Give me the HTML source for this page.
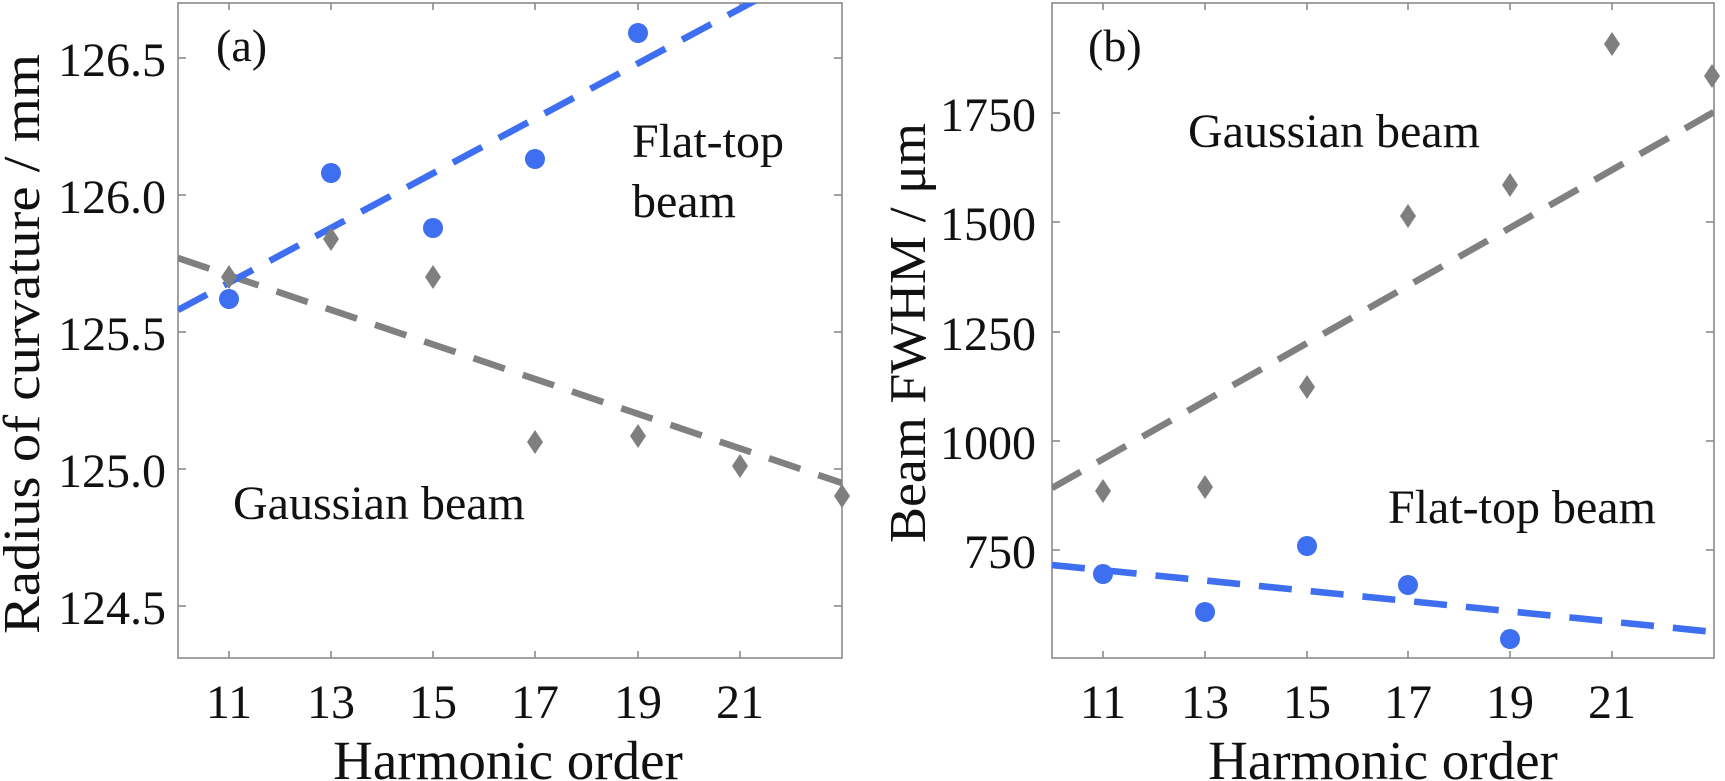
<!DOCTYPE html>
<html><head><meta charset="utf-8"><style>html,body{margin:0;padding:0;background:#fff}svg{display:block}</style></head>
<body>
<svg width="1725" height="781" viewBox="0 0 1725 781" xmlns="http://www.w3.org/2000/svg" font-family="Liberation Serif, serif" fill="#111">
<defs>
<clipPath id="ca"><rect x="178" y="3" width="664" height="655"/></clipPath>
<clipPath id="cb"><rect x="1052" y="3" width="662" height="655"/></clipPath>
<symbol id="dm" overflow="visible"><polygon points="0,-12 8,0 0,12 -8,0" fill="#7f7f7f"/></symbol>
</defs>
<!-- Panel a -->
<rect x="178" y="3" width="664" height="655" fill="none" stroke="#8a8a8a" stroke-width="1.6"/>
<g stroke="#8a8a8a" stroke-width="1.6">
<line x1="178" y1="58" x2="186" y2="58"/><line x1="178" y1="195" x2="186" y2="195"/><line x1="178" y1="332" x2="186" y2="332"/><line x1="178" y1="469" x2="186" y2="469"/><line x1="178" y1="606" x2="186" y2="606"/>
<line x1="842" y1="58" x2="834" y2="58"/><line x1="842" y1="195" x2="834" y2="195"/><line x1="842" y1="332" x2="834" y2="332"/><line x1="842" y1="469" x2="834" y2="469"/><line x1="842" y1="606" x2="834" y2="606"/>
<line x1="229" y1="658" x2="229" y2="651"/><line x1="331" y1="658" x2="331" y2="651"/><line x1="433" y1="658" x2="433" y2="651"/><line x1="535" y1="658" x2="535" y2="651"/><line x1="638" y1="658" x2="638" y2="651"/><line x1="740" y1="658" x2="740" y2="651"/>
<line x1="229" y1="3" x2="229" y2="10"/><line x1="331" y1="3" x2="331" y2="10"/><line x1="433" y1="3" x2="433" y2="10"/><line x1="535" y1="3" x2="535" y2="10"/><line x1="638" y1="3" x2="638" y2="10"/><line x1="740" y1="3" x2="740" y2="10"/>
</g>
<g font-size="48" text-anchor="end">
<text x="166" y="76">126.5</text><text x="166" y="213">126.0</text><text x="166" y="350">125.5</text><text x="166" y="487">125.0</text><text x="166" y="624">124.5</text>
</g>
<g font-size="48" text-anchor="middle">
<text x="229" y="718">11</text><text x="331" y="718">13</text><text x="433" y="718">15</text><text x="535" y="718">17</text><text x="638" y="718">19</text><text x="740" y="718">21</text>
</g>
<text x="508" y="779" font-size="55" text-anchor="middle">Harmonic order</text>
<text transform="translate(39,344) rotate(-90)" font-size="52" text-anchor="middle" textLength="580" lengthAdjust="spacingAndGlyphs">Radius of curvature / mm</text>
<text x="216" y="61" font-size="46">(a)</text>
<text x="632" y="157" font-size="48">Flat-top</text>
<text x="632" y="217" font-size="48">beam</text>
<text x="233" y="519" font-size="48">Gaussian beam</text>
<g clip-path="url(#ca)">
<line x1="178" y1="258" x2="842" y2="483" stroke="#808080" stroke-width="6.6" stroke-dasharray="33,19"/>
<line x1="178" y1="310" x2="842" y2="-46" stroke="#3d6ff0" stroke-width="6.6" stroke-dasharray="33,19"/>
</g>
<g>
<use href="#dm" x="229" y="277"/><use href="#dm" x="331" y="239"/><use href="#dm" x="433" y="277"/><use href="#dm" x="535" y="442"/><use href="#dm" x="638" y="436"/><use href="#dm" x="740" y="466"/><use href="#dm" x="842" y="496"/>
</g>
<g fill="#3d6ff0">
<circle cx="229" cy="299" r="10"/><circle cx="331" cy="173" r="10"/><circle cx="433" cy="228" r="10"/><circle cx="535" cy="159" r="10"/><circle cx="638" cy="33" r="10"/>
</g>
<!-- Panel b -->
<rect x="1052" y="3" width="662" height="655" fill="none" stroke="#8a8a8a" stroke-width="1.6"/>
<g stroke="#8a8a8a" stroke-width="1.6">
<line x1="1052" y1="113" x2="1060" y2="113"/><line x1="1052" y1="222" x2="1060" y2="222"/><line x1="1052" y1="332" x2="1060" y2="332"/><line x1="1052" y1="441" x2="1060" y2="441"/><line x1="1052" y1="550" x2="1060" y2="550"/>
<line x1="1714" y1="113" x2="1706" y2="113"/><line x1="1714" y1="222" x2="1706" y2="222"/><line x1="1714" y1="332" x2="1706" y2="332"/><line x1="1714" y1="441" x2="1706" y2="441"/><line x1="1714" y1="550" x2="1706" y2="550"/>
<line x1="1103" y1="658" x2="1103" y2="651"/><line x1="1205" y1="658" x2="1205" y2="651"/><line x1="1307" y1="658" x2="1307" y2="651"/><line x1="1408" y1="658" x2="1408" y2="651"/><line x1="1510" y1="658" x2="1510" y2="651"/><line x1="1612" y1="658" x2="1612" y2="651"/>
<line x1="1103" y1="3" x2="1103" y2="10"/><line x1="1205" y1="3" x2="1205" y2="10"/><line x1="1307" y1="3" x2="1307" y2="10"/><line x1="1408" y1="3" x2="1408" y2="10"/><line x1="1510" y1="3" x2="1510" y2="10"/><line x1="1612" y1="3" x2="1612" y2="10"/>
</g>
<g font-size="48" text-anchor="end">
<text x="1036" y="131">1750</text><text x="1036" y="240">1500</text><text x="1036" y="350">1250</text><text x="1036" y="459">1000</text><text x="1036" y="568">750</text>
</g>
<g font-size="48" text-anchor="middle">
<text x="1103" y="718">11</text><text x="1205" y="718">13</text><text x="1307" y="718">15</text><text x="1408" y="718">17</text><text x="1510" y="718">19</text><text x="1612" y="718">21</text>
</g>
<text x="1383" y="779" font-size="55" text-anchor="middle">Harmonic order</text>
<text transform="translate(925,333) rotate(-90)" font-size="52" text-anchor="middle" textLength="420" lengthAdjust="spacingAndGlyphs">Beam FWHM / μm</text>
<text x="1088" y="61" font-size="46">(b)</text>
<text x="1188" y="147" font-size="48">Gaussian beam</text>
<text x="1388" y="523" font-size="48">Flat-top beam</text>
<g clip-path="url(#cb)">
<line x1="1052" y1="488" x2="1714" y2="112" stroke="#808080" stroke-width="6.6" stroke-dasharray="33,19"/>
<line x1="1052" y1="565" x2="1714" y2="632" stroke="#3d6ff0" stroke-width="6.6" stroke-dasharray="33,19"/>
</g>
<g>
<use href="#dm" x="1103" y="491"/><use href="#dm" x="1205" y="487"/><use href="#dm" x="1307" y="387"/><use href="#dm" x="1408" y="216"/><use href="#dm" x="1510" y="185"/><use href="#dm" x="1612" y="44"/><use href="#dm" x="1712" y="76"/>
</g>
<g fill="#3d6ff0">
<circle cx="1103" cy="574" r="10"/><circle cx="1205" cy="612" r="10"/><circle cx="1307" cy="546" r="10"/><circle cx="1408" cy="585" r="10"/><circle cx="1510" cy="639" r="10"/>
</g>
</svg>
</body></html>
